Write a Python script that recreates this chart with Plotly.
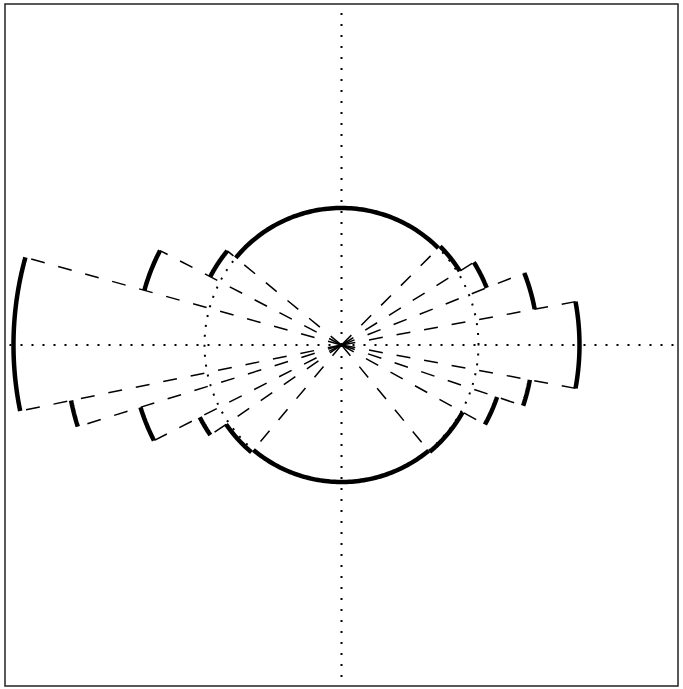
import numpy as np
import plotly.graph_objects as go

# Bin boundaries (degrees, counter-clockwise from east) and bin radii
# (in units of the dotted reference circle)
bin_edges_deg = [-10.5, 10.5, 21.5, 32.0, 45.0, 140.5, 152.5, 164.5, 191.6,
                 197.2, 207.0, 214.5, 230.0, 309.5, 331.0, 341.5, 349.5]
bin_radius = [1.737, 1.434, 1.139, 1.018, 1.000, 1.080, 1.493, 2.394, 2.015,
              1.536, 1.161, 1.022, 1.000, 1.011, 1.197, 1.398]
reference_radius = 1.0
axis_max = 2.456

fig = go.Figure()

n = len(bin_radius)
# radial dashed boundary lines (one per edge, to the longer neighbour)
for i in range(n):
    r_edge = max(bin_radius[i], bin_radius[i - 1])
    fig.add_trace(go.Scatterpolar(
        r=[0, r_edge], theta=[bin_edges_deg[i], bin_edges_deg[i]],
        mode="lines", line=dict(color="black", width=1.5, dash="14px,14px"),
        hoverinfo="skip", showlegend=False))

# thick outer arcs
for i in range(n):
    th = np.linspace(bin_edges_deg[i], bin_edges_deg[i + 1], 80)
    fig.add_trace(go.Scatterpolar(
        r=np.full_like(th, bin_radius[i]), theta=th,
        mode="lines", line=dict(color="black", width=4.5),
        hoverinfo="skip", showlegend=False))

fig.update_layout(
    width=683, height=689,
    margin=dict(l=5, r=5, t=4, b=3),
    paper_bgcolor="white",
    showlegend=False,
    polar=dict(
        domain=dict(x=[0, 1], y=[0, 1]),
        bgcolor="white",
        radialaxis=dict(range=[0, axis_max], tickvals=[reference_radius],
                        showgrid=True, gridcolor="black", gridwidth=1.6,
                        griddash="2px,8px", showline=False,
                        showticklabels=False, ticks=""),
        angularaxis=dict(tickvals=[0, 90, 180, 270], showgrid=True,
                         gridcolor="black", gridwidth=2,
                         griddash="2px,9px", showline=False,
                         showticklabels=False, ticks=""),
    ),
    shapes=[dict(type="rect", xref="paper", yref="paper", x0=0, x1=1,
                 y0=0, y1=1, line=dict(color="#222222", width=1.5))],
)

fig.write_html("out.html", config={"displayModeBar": False},
               post_script="document.body.style.margin='0';"
                           "document.body.style.overflow='hidden';")
